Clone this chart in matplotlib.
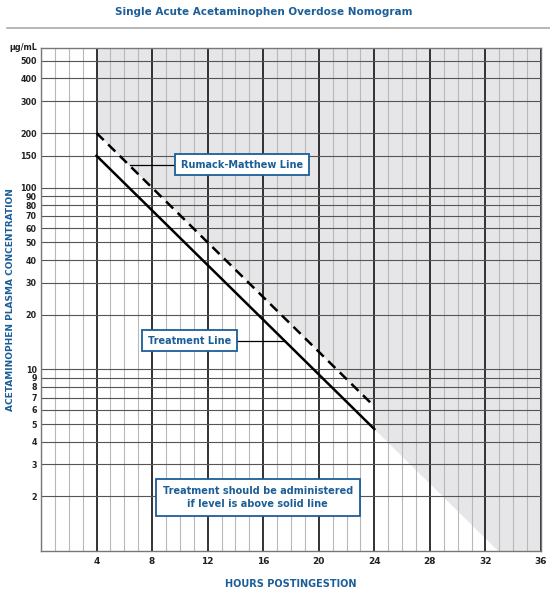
import numpy as np
import matplotlib
matplotlib.use("Agg")
import matplotlib.pyplot as plt
from matplotlib.patches import Polygon

plt.rcParams['font.family'] = ['Liberation Sans Narrow', 'DejaVu Sans']
BLUE = '#1b5e98'

hours_line = [4, 24]
rumack = [200, 6.25]
treatment = [150, 4.69]
x_ticks = [4, 8, 12, 16, 20, 24, 28, 32, 36]
y_labels = [500, 400, 300, 200, 150, 100, 90, 80, 70, 60, 50, 40, 30, 20,
            10, 9, 8, 7, 6, 5, 4, 3, 2]

fig = plt.figure(figsize=(5.5, 5.91), dpi=100)
ax = fig.add_axes([41/550, 40/591, 500/550, 503/591])
ymin, ymax = 1, 588
ax.set_xlim(0, 36)
ax.set_yscale('log')
ax.set_ylim(ymin, ymax)

t_end = hours_line[1] + 4*np.log2(treatment[1]/ymin)
poly = [(4, ymax), (4, rumack[0]), (24, rumack[1]), (24, treatment[1]),
        (t_end, ymin), (36, ymin), (36, ymax)]
ax.add_patch(Polygon(poly, closed=True, fc='#e6e6e8', ec='none', zorder=0))

for h in range(0, 37):
    major = h % 4 == 0 and h > 0
    ax.axvline(h, color='#222' if major else '#b8b8b8', lw=1.3 if major else 0.8, zorder=1)
for v in y_labels:
    ax.axhline(v, color='#555', lw=0.8, zorder=1)

ax.plot(hours_line, rumack, color='black', lw=1.8, ls=(0, (4, 2.5)), zorder=3)
ax.plot(hours_line, treatment, color='black', lw=1.8, zorder=3)

ax.set_yticks(y_labels)
ax.set_yticklabels([str(v) for v in y_labels])
ax.yaxis.set_minor_locator(matplotlib.ticker.NullLocator())
ax.set_xticks(x_ticks)
ax.tick_params(axis='y', length=0, labelsize=5.8, pad=3)
ax.tick_params(axis='x', length=0, labelsize=6.5, pad=4)
for lab in ax.get_xticklabels() + ax.get_yticklabels():
    lab.set_fontweight('bold'); lab.set_color('#222')
for s in ax.spines.values():
    s.set_color('#777'); s.set_linewidth(1)
ax.text(-0.3, ymax, 'µg/mL', ha='right', va='center', fontsize=5.8, fontweight='bold', color='#222')

ax.set_xlabel('HOURS POSTINGESTION', fontsize=7, fontweight='bold', color=BLUE, labelpad=10)
ax.set_ylabel('ACETAMINOPHEN PLASMA CONCENTRATION', fontsize=6.5, fontweight='bold', color=BLUE, labelpad=8)
ax.yaxis.set_label_coords(-26/500, 0.5)

fig.text(115/550, 1-12/591, 'Single Acute Acetaminophen Overdose Nomogram', fontsize=7.5,
         fontweight='bold', color=BLUE, va='center')
fig.add_artist(plt.Line2D([7/550, 1], [1-28/591]*2, color='#aaa', lw=1.2))

bbox = dict(boxstyle='square,pad=0.6', fc='white', ec=BLUE, lw=1.3)
ax.plot([6.4, 10], [133, 133], color='black', lw=0.9, zorder=3)
ax.plot([14, 17.6], [14.3, 14.3], color='black', lw=0.9, zorder=3)
ax.text(14.5, 134, 'Rumack-Matthew Line', ha='center', va='center', fontsize=7,
        fontweight='bold', color=BLUE, bbox=bbox, zorder=4)
ax.text(10.7, 14.4, 'Treatment Line', ha='center', va='center', fontsize=7,
        fontweight='bold', color=BLUE, bbox=bbox, zorder=4)
ax.text(15.6, 1.98, 'Treatment should be administered\nif level is above solid line', ha='center',
        va='center', fontsize=7, fontweight='bold', color=BLUE, linespacing=1.4,
        bbox=dict(boxstyle='square,pad=0.7', fc='white', ec=BLUE, lw=1.3), zorder=4)

fig.savefig('out.png', dpi=100)
